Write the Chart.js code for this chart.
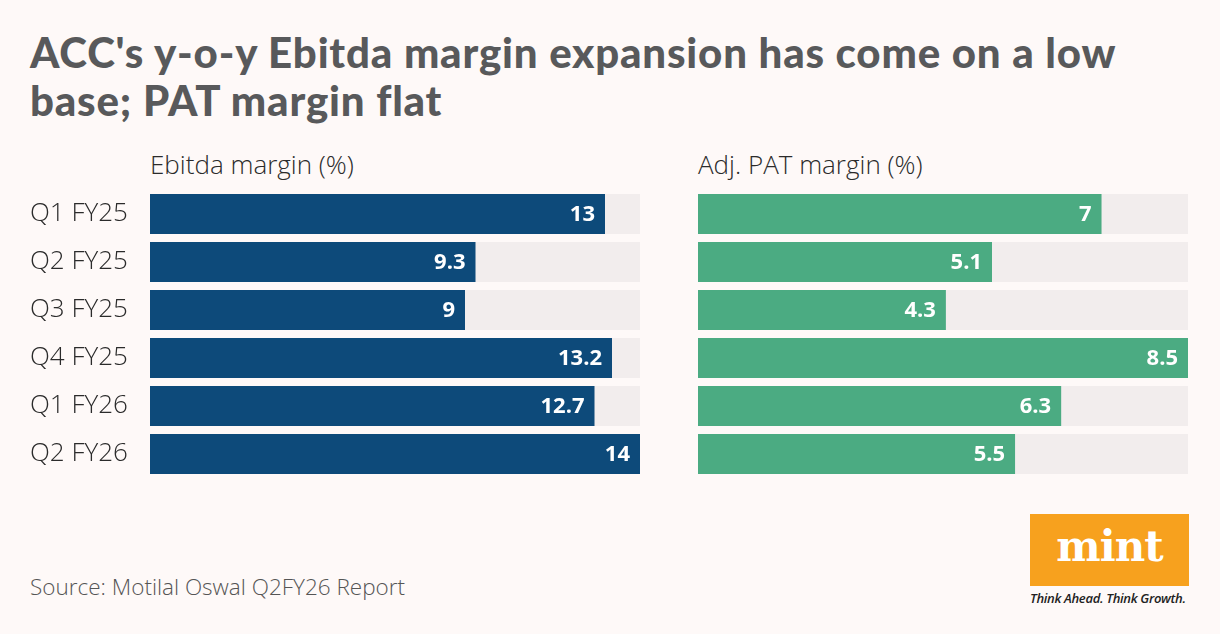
<!DOCTYPE html>
<html>
<head>
<meta charset="utf-8">
<script src="https://cdn.jsdelivr.net/npm/chart.js@4"></script>
<style>
  body { margin: 0; width: 1220px; height: 634px; background: #fef9f8; font-family: "Open Sans", sans-serif; position: relative; overflow: hidden; }
  h1 { position: absolute; left: 30px; top: 28px; margin: 0; font-family: "Lato", sans-serif; font-weight: 900; font-size: 42px; line-height: 48px; color: #58595b; letter-spacing: 0.8px; width: 1150px; }
  .panel-title { position: absolute; top: 146px; font-size: 26px; color: #2b2b2b; font-weight: 300; }
  .box { position: absolute; top: 190px; height: 288px; }
  .source { position: absolute; left: 30px; top: 571px; font-size: 22.5px; color: #555; font-weight: 300; }
  .logo { position: absolute; left: 1030px; top: 514px; width: 159px; height: 72px; background: #f7a11e; color: #fff; text-align: center; font-family: "DejaVu Serif", serif; font-weight: bold; font-size: 42px; line-height: 66px; letter-spacing: -1px; }
  .tag { position: absolute; left: 1030px; top: 589px; width: 162px; font-family: "Open Sans", sans-serif; font-style: italic; font-weight: 600; font-size: 13px; color: #222; white-space: nowrap; letter-spacing: -0.3px; }
</style>
</head>
<body>
<h1>ACC's y-o-y Ebitda margin expansion has come on a low base; PAT margin flat</h1>
<div class="panel-title" style="left:150px">Ebitda margin (%)</div>
<div class="panel-title" style="left:698px">Adj. PAT margin (%)</div>
<div class="box" style="left:30px;width:610px"><canvas id="ebitda"></canvas></div>
<div class="box" style="left:698px;width:490px"><canvas id="pat"></canvas></div>
<div class="source">Source: Motilal Oswal Q2FY26 Report</div>
<div class="logo">mint</div>
<div class="tag">Think Ahead. Think Growth.</div>
<script>
const quarters = ['Q1 FY25', 'Q2 FY25', 'Q3 FY25', 'Q4 FY25', 'Q1 FY26', 'Q2 FY26'];
const ebitdaMargin = [13, 9.3, 9, 13.2, 12.7, 14];
const patMargin = [7, 5.1, 4.3, 8.5, 6.3, 5.5];

// white value labels at the end of each bar
const valueLabels = {
  id: 'valueLabels',
  afterDatasetsDraw(chart) {
    const ctx = chart.ctx;
    const meta = chart.getDatasetMeta(1);
    ctx.save();
    ctx.fillStyle = '#ffffff';
    ctx.font = 'bold 22px "Open Sans"';
    ctx.textAlign = 'right';
    ctx.textBaseline = 'middle';
    meta.data.forEach((bar, i) => {
      ctx.fillText(chart.data.datasets[1].data[i], bar.x - 10, bar.y + 1);
    });
    ctx.restore();
  }
};

function makeChart(id, values, color, showLabels) {
  const max = Math.max(...values);
  return new Chart(document.getElementById(id), {
    type: 'bar',
    data: {
      labels: quarters,
      datasets: [
        { data: values.map(() => max), backgroundColor: '#f2eded', order: 2 },
        { data: values, backgroundColor: color, order: 1 }
      ]
    },
    options: {
      indexAxis: 'y',
      responsive: true,
      maintainAspectRatio: false,
      animation: false,
      layout: { padding: 0 },
      datasets: { bar: { grouped: false, categoryPercentage: 1, barPercentage: 0.834 } },
      plugins: { legend: { display: false }, tooltip: { enabled: false } },
      scales: {
        x: { display: false, min: 0, max: max },
        y: {
          display: showLabels,
          grid: { display: false },
          border: { display: false },
          afterFit(scale) {
            if (!showLabels) return;
            scale.width = 120;
            scale.paddingTop = 0;
            scale.paddingBottom = 0;
          },
          ticks: { crossAlign: 'far', padding: 0, color: '#2b2b2b', font: { family: 'Open Sans', size: 26, weight: 300 } }
        }
      }
    },
    plugins: [valueLabels]
  });
}

makeChart('ebitda', ebitdaMargin, '#0d4a7a', true);
makeChart('pat', patMargin, '#4bab82', false);
</script>
</body>
</html>
